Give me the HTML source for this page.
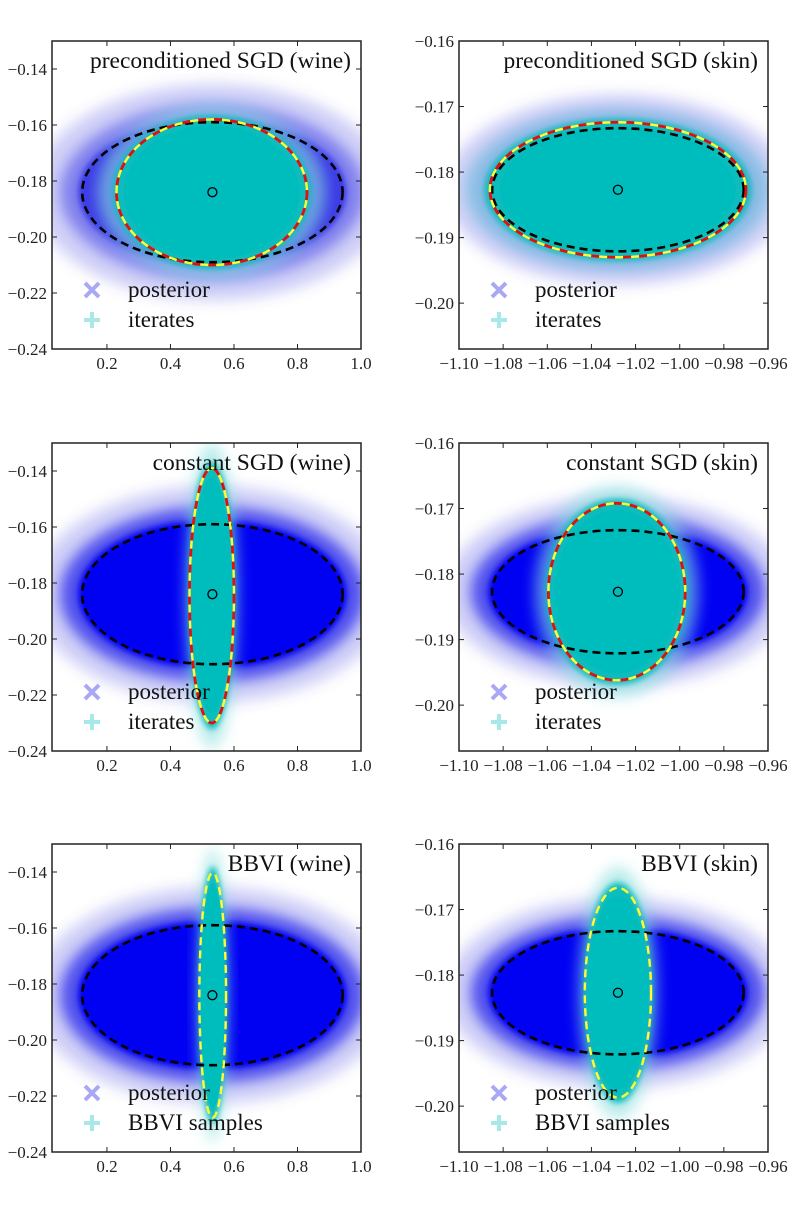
<!DOCTYPE html>
<html><head><meta charset="utf-8"><style>
html,body{margin:0;padding:0;background:#fff;}
svg{display:block;}
text{font-family:"Liberation Serif",serif;}
</style></head><body>
<svg id="fig" width="811" height="1207" viewBox="0 0 811 1207" xmlns="http://www.w3.org/2000/svg">
<defs>
<filter id="blur3" x="-30%" y="-30%" width="160%" height="160%"><feGaussianBlur stdDeviation="3"/></filter>
<filter id="blur6" x="-30%" y="-30%" width="160%" height="160%"><feGaussianBlur stdDeviation="7"/></filter>
</defs>
</svg>
<script>
// ---- data ----
const panelTitles = ["preconditioned SGD (wine)","preconditioned SGD (skin)","constant SGD (wine)","constant SGD (skin)","BBVI (wine)","BBVI (skin)"];
const panelDatasets = ["wine","skin","wine","skin","wine","skin"];
const legendSecond = ["iterates","iterates","iterates","iterates","BBVI samples","BBVI samples"];
const wineXTicks = [0.2,0.4,0.6,0.8,1.0];
const wineXTickLabels = ["0.2","0.4","0.6","0.8","1.0"];
const wineYTicks = [-0.14,-0.16,-0.18,-0.20,-0.22,-0.24];
const wineYTickLabels = ["\u22120.14","\u22120.16","\u22120.18","\u22120.20","\u22120.22","\u22120.24"];
const skinXTicks = [-1.10,-1.08,-1.06,-1.04,-1.02,-1.00,-0.98,-0.96];
const skinXTickLabels = ["\u22121.10","\u22121.08","\u22121.06","\u22121.04","\u22121.02","\u22121.00","\u22120.98","\u22120.96"];
const skinYTicks = [-0.16,-0.17,-0.18,-0.19,-0.20];
const skinYTickLabels = ["\u22120.16","\u22120.17","\u22120.18","\u22120.19","\u22120.20"];
const wineXDomain = [0.027, 1.0];
const wineYDomain = [-0.24, -0.13];
const skinXDomain = [-1.10, -0.96];
const skinYDomain = [-0.207, -0.16];
const postCenterX = [0.532,-1.028,0.532,-1.028,0.532,-1.028];
const postCenterY = [-0.184,-0.1827,-0.184,-0.1827,-0.184,-0.1827];
const postRX = [0.41,0.057,0.41,0.057,0.41,0.057];
const postRY = [0.025,0.0094,0.025,0.0094,0.025,0.0094];
const iterCenterX = [0.53,-1.028,0.53,-1.0285,0.533,-1.028];
const iterCenterY = [-0.184,-0.1827,-0.1845,-0.1827,-0.184,-0.1827];
const iterRX = [0.30,0.058,0.07,0.031,0.042,0.015];
const iterRY = [0.026,0.0103,0.0455,0.0135,0.0437,0.016];
const showRed = [true,true,true,true,false,false];

// ---- layout ----
const colL = [52,459], W = 309, H = 308;
const rowT = [41,443,844];
const NS = "http://www.w3.org/2000/svg";
const svg = document.getElementById('fig');
function mk(tag, attrs, parent){ const e=document.createElementNS(NS,tag); for(const k in attrs) e.setAttribute(k,attrs[k]); (parent||svg).appendChild(e); return e; }

for(let p=0;p<6;p++){
  const L = colL[p%2], T = rowT[Math.floor(p/2)];
  const wine = panelDatasets[p]==="wine";
  const xd = wine?wineXDomain:skinXDomain, yd = wine?wineYDomain:skinYDomain;
  const sx = v => L + (v-xd[0])/(xd[1]-xd[0])*W;
  const sy = v => T + H - (v-yd[0])/(yd[1]-yd[0])*H;
  const kx = W/(xd[1]-xd[0]), ky = H/(yd[1]-yd[0]);
  const g = mk('g',{});
  
  
  const cp = mk('clipPath',{id:'cp'+p},g);
  mk('rect',{x:L,y:T,width:W,height:H},cp);
  const plot = mk('g',{'clip-path':'url(#cp'+p+')'},g);
  const pcx=sx(postCenterX[p]), pcy=sy(postCenterY[p]), prx=postRX[p]*kx, pry=postRY[p]*ky;
  const cloud = mk('g',{},plot);
  
  
  const dense = p>=2;
  mk('ellipse',{cx:pcx,cy:pcy,rx:prx*1.38,ry:pry*1.55,fill:'#c8c8f6',opacity:0.85,filter:'url(#blur6)'},cloud);
  mk('ellipse',{cx:pcx,cy:pcy,rx:prx*1.17,ry:pry*1.25,fill:dense?'#5050ee':'#8080ee',filter:'url(#blur6)'},cloud);
  mk('ellipse',{cx:pcx,cy:pcy,rx:prx*1.03,ry:pry*1.06,fill:dense?'#0000f2':'#3a3ae6',filter:'url(#blur3)'},cloud);
  const icx=sx(iterCenterX[p]), icy=sy(iterCenterY[p]), irx=iterRX[p]*kx, iry=iterRY[p]*ky;
  const ic = mk('g',{},plot);
  
  
  mk('ellipse',{cx:icx,cy:icy,rx:irx*1.2,ry:iry*1.2,fill:'#8adede',opacity:0.6,filter:'url(#blur6)'},ic);
  mk('ellipse',{cx:icx,cy:icy,rx:irx*1.04,ry:iry*1.05,fill:'#10bcbc',filter:'url(#blur3)'},ic);
  mk('ellipse',{cx:icx,cy:icy,rx:irx*0.92,ry:iry*0.92,fill:'#00bdbd'},ic);
  const be = mk('ellipse',{cx:pcx,cy:pcy,rx:prx,ry:pry,fill:'none',stroke:'#000','stroke-width':2.6,'stroke-dasharray':'8 5'},plot);
  
  
  if(showRed[p]){
    const re = mk('ellipse',{cx:icx,cy:icy,rx:irx,ry:iry,fill:'none',stroke:'#e01010','stroke-width':2.8,'stroke-dasharray':'8 8'},plot);
    
    
  }
  const ye = mk('ellipse',{cx:icx,cy:icy,rx:irx,ry:iry,fill:'none',stroke:'#ffff30','stroke-width':2.4,'stroke-dasharray':showRed[p]?'8 8':'8 5','stroke-dashoffset':showRed[p]?8:0},plot);
  
  
  const cm = mk('circle',{cx:pcx,cy:pcy,r:4.5,fill:'none',stroke:'#000','stroke-width':1.3},plot);
  
  
  const fr = mk('rect',{x:L,y:T,width:W,height:H,fill:'none',stroke:'#222','stroke-width':1.5},g);
  
  
  const xt = wine?wineXTicks:skinXTicks, xl = wine?wineXTickLabels:skinXTickLabels;
  const yt = wine?wineYTicks:skinYTicks, yl = wine?wineYTickLabels:skinYTickLabels;
  xt.forEach((v,i)=>{
    const x=sx(v);
    mk('line',{x1:x,x2:x,y1:T+H,y2:T+H-5,stroke:'#222','stroke-width':1},g);
    mk('line',{x1:x,x2:x,y1:T,y2:T+5,stroke:'#222','stroke-width':1},g);
    const t = mk('text',{x:x,y:T+H+20,'text-anchor':'middle','font-size':17,fill:'#222'},g);
    t.textContent = xl[i];
    
    
  });
  yt.forEach((v,i)=>{
    const y=sy(v);
    mk('line',{x1:L,x2:L+5,y1:y,y2:y,stroke:'#222','stroke-width':1},g);
    mk('line',{x1:L+W,x2:L+W-5,y1:y,y2:y,stroke:'#222','stroke-width':1},g);
    const t = mk('text',{x:L-5,y:y+6,'text-anchor':'end','font-size':17,fill:'#222'},g);
    t.textContent = yl[i];
    
    
  });
  const tt = mk('text',{x:L+W-10,y:T+27,'text-anchor':'end','font-size':23.5,fill:'#111'},g);
  tt.textContent = panelTitles[p];
  
  
  const lg = mk('g',{},g);
  
  
  const ly1 = T+249, ly2 = T+279, mx = L+40;
  mk('path',{d:`M${mx-7} ${ly1-7}L${mx+7} ${ly1+7}M${mx-7} ${ly1+7}L${mx+7} ${ly1-7}`,stroke:'#a8a8f4','stroke-width':4},lg);
  mk('path',{d:`M${mx-8} ${ly2}L${mx+8} ${ly2}M${mx} ${ly2-8}L${mx} ${ly2+8}`,stroke:'#a8e8e8','stroke-width':4},lg);
  const l1 = mk('text',{x:L+76,y:ly1+7,'font-size':23,fill:'#111'},lg);
  l1.textContent='posterior';
  
  
  const l2 = mk('text',{x:L+76,y:ly2+7,'font-size':23,fill:'#111'},lg);
  l2.textContent=legendSecond[p];
  
  
}
</script>
</body></html>
